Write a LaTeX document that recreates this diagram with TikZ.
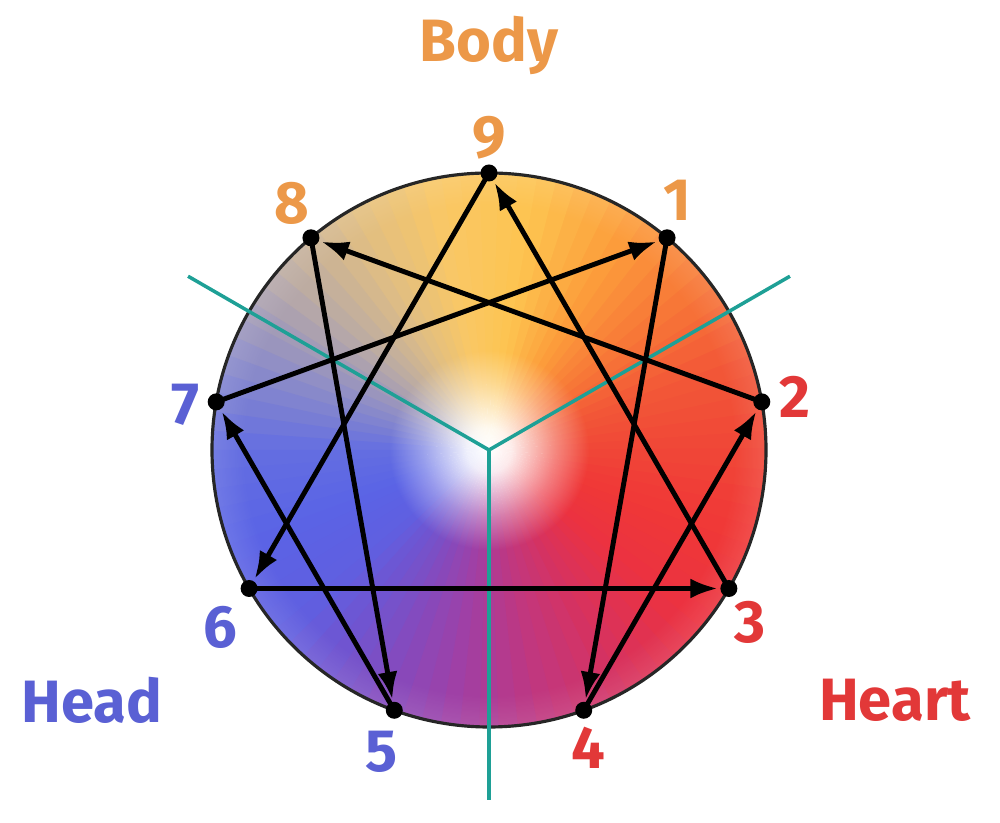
\documentclass[tikz,border=0pt]{standalone}
\usepackage{fontspec}
\setmainfont{Fira Sans}
\usetikzlibrary{arrows.meta,fadings}
\definecolor{s0}{RGB}{240,70,55}
\definecolor{s1}{RGB}{242,88,55}
\definecolor{s2}{RGB}{248,122,55}
\definecolor{s3}{RGB}{252,160,60}
\definecolor{s4}{RGB}{253,195,80}
\definecolor{s5}{RGB}{250,200,100}
\definecolor{s6}{RGB}{225,190,130}
\definecolor{s7}{RGB}{185,170,165}
\definecolor{s8}{RGB}{140,140,200}
\definecolor{s9}{RGB}{100,110,225}
\definecolor{s10}{RGB}{90,100,230}
\definecolor{s11}{RGB}{95,95,225}
\definecolor{s12}{RGB}{120,80,200}
\definecolor{s13}{RGB}{155,65,170}
\definecolor{s14}{RGB}{190,55,130}
\definecolor{s15}{RGB}{215,50,95}
\definecolor{s16}{RGB}{235,50,65}
\definecolor{s17}{RGB}{240,55,55}
\definecolor{s18}{RGB}{240,70,55}
\definecolor{bodyc}{RGB}{236,152,72}
\definecolor{heartc}{RGB}{226,56,56}
\definecolor{headc}{RGB}{90,96,212}
\definecolor{tealc}{RGB}{30,160,150}
\pgfdeclareradialshading{glowsh}{\pgfpointorigin}{color(0bp)=(white); color(2bp)=(white!90!black); color(6bp)=(white!35!black); color(9bp)=(black); color(22bp)=(black); color(30bp)=(white!30!black); color(35bp)=(white!65!black); color(50bp)=(white!65!black)}
\pgfdeclarefading{glowf}{\pgfuseshading{glowsh}}
\tikzset{
  lbl/.style={font=\fontsize{34}{40}\selectfont\bfseries},
  dot/.style={fill=black},
  arr/.style={line width=2.8pt,-{Latex[length=0.55cm,width=0.4cm]},shorten >=0.22cm},
  teal/.style={tealc,line width=2pt}
}
\begin{document}
\begin{tikzpicture}
\useasboundingbox (0,0) rectangle (20,16.46);
\def\R{5.54}
\coordinate (c) at (9.78,7.46);
\begin{scope}[shift={(c)}]
\foreach \i in {0,...,17}{
  \pgfmathtruncatemacro\j{\i+1}
  \foreach \k in {0,...,4}{
    \pgfmathsetmacro\a{\i*20+\k*4}
    \pgfmathtruncatemacro\p{\k*20+10}
    \fill[s\j!\p!s\i] (0,0) -- (\a:\R) arc (\a:\a+4.4:\R) -- cycle;
  }
}
\fill[white,path fading=glowf] (0,0) circle (\R);
\end{scope}
\draw[line width=1.8pt,black!85] (c) circle (\R);
\draw[teal] (c) -- ([shift={(270:7)}]c);
\draw[teal] (c) -- ([shift={(150:6.95)}]c);
\draw[teal] (c) -- ([shift={(30:6.95)}]c);
\foreach \n/\ang in {9/90,1/50,2/10,3/-30,4/-70,5/-110,6/-150,7/170,8/130}{
  \coordinate (p\n) at ([shift={(\ang:\R)}]c);
}
\draw[arr] (p9) -- (p6);
\draw[arr] (p6) -- (p3);
\draw[arr] (p3) -- (p9);
\draw[arr] (p7) -- (p1);
\draw[arr] (p1) -- (p4);
\draw[arr] (p4) -- (p2);
\draw[arr] (p2) -- (p8);
\draw[arr] (p8) -- (p5);
\draw[arr] (p5) -- (p7);
\foreach \n in {1,...,9}{ \fill[dot] (p\n) circle (0.17); }
\node[lbl,bodyc] (lbody) at (9.78,15.56) {Body};
\node[lbl,bodyc] (l9) at (9.78,13.70) {9};
\node[lbl,bodyc] (l1) at (13.54,12.46) {1};
\node[lbl,bodyc] (l8) at (5.84,12.40) {8};
\node[lbl,heartc] (l2) at (15.90,8.52) {2};
\node[lbl,headc] (l7) at (3.70,8.36) {7};
\node[lbl,heartc] (l3) at (15.00,4.02) {3};
\node[lbl,headc] (l6) at (4.40,3.92) {6};
\node[lbl,heartc] (l4) at (11.76,1.50) {4};
\node[lbl,headc] (l5) at (7.64,1.42) {5};
\node[lbl,headc] (lhead) at (1.84,2.46) {Head};
\node[lbl,heartc] (lheart) at (17.90,2.46) {Heart};
\end{tikzpicture}
\end{document}
